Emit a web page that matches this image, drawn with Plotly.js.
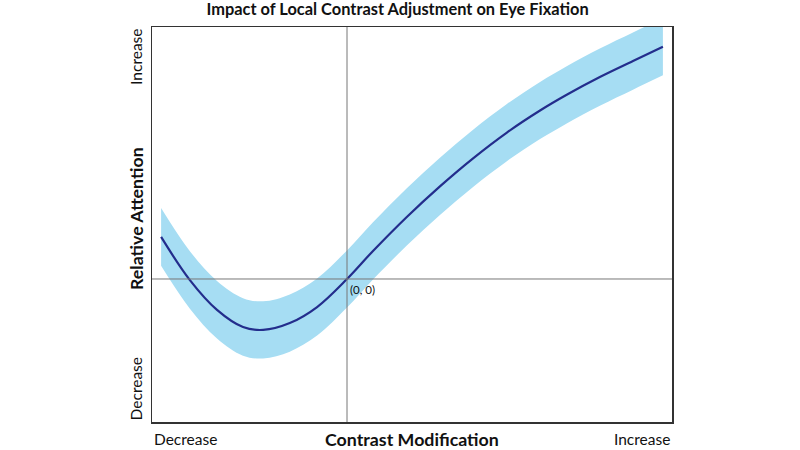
<!DOCTYPE html>
<html>
<head>
<meta charset="utf-8">
<script src="https://cdn.plot.ly/plotly-3.0.1.min.js"></script>
<style>html,body{margin:0;padding:0;background:#fff;}#chart{width:800px;height:450px;}</style>
</head>
<body>
<div id="chart"></div>
<script>
// Contrast modification (x) vs relative attention (y), arbitrary units
var contrast = [-2.86, -2.42, -2.00, -1.60, -1.29, -0.88, -0.46, 0.00, 0.40, 0.92, 1.43, 1.94, 2.46, 2.97, 3.38, 3.89, 4.40, 4.86];
var attention = [1.47, -0.03, -1.08, -1.68, -1.78, -1.54, -0.98, 0.00, 0.98, 2.17, 3.24, 4.22, 5.12, 5.89, 6.44, 7.06, 7.62, 8.12];
var attentionUpper = [2.48, 0.98, -0.07, -0.67, -0.78, -0.54, 0.02, 1.00, 1.98, 3.17, 4.24, 5.22, 6.12, 6.89, 7.44, 8.06, 8.62, 9.12];
var attentionLower = [0.46, -1.03, -2.08, -2.68, -2.78, -2.54, -1.98, -1.00, -0.02, 1.17, 2.24, 3.22, 4.12, 4.89, 5.44, 6.06, 6.62, 7.12];
var xTickLabels = ["Decrease", "Increase"];
var yTickLabels = ["Decrease", "Increase"];
var originLabel = "(0, 0)";

var font = "Lato, 'Open Sans', 'Noto Sans', sans-serif";
var bandColor = "rgb(166,221,243)";
var lineColor = "rgb(35,45,140)";

var traces = [
  {x: contrast, y: attentionLower, mode: "lines", line: {width: 0, shape: "spline", color: bandColor}, hoverinfo: "skip", showlegend: false},
  {x: contrast, y: attentionUpper, mode: "lines", line: {width: 0, shape: "spline", color: bandColor}, fill: "tonexty", fillcolor: bandColor, hoverinfo: "skip", showlegend: false},
  {x: contrast, y: attention, mode: "lines", line: {width: 2.2, shape: "spline", color: lineColor}, showlegend: false}
];

var tickFont = {family: font, size: 15.5, color: "#111"};
var axisTitleFont = {family: font, size: 17.8, color: "#111"};

var layout = {
  width: 800, height: 450,
  margin: {l: 152, r: 128, t: 27, b: 28},
  paper_bgcolor: "#fff", plot_bgcolor: "#fff",
  showlegend: false,
  title: {text: "<b>Impact of Local Contrast Adjustment on Eye Fixation</b>", font: {family: font, size: 16.4, color: "#111"}, x: 0.497, xanchor: "center", y: 0.979, yanchor: "middle"},
  xaxis: {range: [-3, 5], showgrid: false, zeroline: false, showticklabels: false, ticks: "", showline: true, mirror: true, linecolor: "#333", linewidth: 1.5},
  yaxis: {range: [-5, 8.81], showgrid: false, zeroline: false, showticklabels: false, ticks: "", showline: true, mirror: true, linecolor: "#333", linewidth: 1.5},
  shapes: [
    {type: "line", xref: "x", yref: "paper", x0: 0, x1: 0, y0: 0, y1: 1, line: {color: "#777", width: 1}, layer: "above"},
    {type: "line", xref: "paper", yref: "y", x0: 0, x1: 1, y0: 0, y1: 0, line: {color: "#777", width: 1}, layer: "above"}
  ],
  annotations: [
    {text: xTickLabels[0], xref: "paper", yref: "paper", x: 0, y: -0.043, xanchor: "left", yanchor: "middle", showarrow: false, font: tickFont},
    {text: xTickLabels[1], xref: "paper", yref: "paper", x: 1, y: -0.043, xanchor: "right", yanchor: "middle", showarrow: false, font: tickFont},
    {text: "<b>Contrast Modification</b>", xref: "paper", yref: "paper", x: 0.5, y: -0.043, xanchor: "center", yanchor: "middle", showarrow: false, font: axisTitleFont},
    {text: yTickLabels[1], xref: "paper", yref: "paper", x: -0.031, y: 1, xanchor: "center", yanchor: "top", textangle: -90, showarrow: false, font: tickFont},
    {text: yTickLabels[0], xref: "paper", yref: "paper", x: -0.031, y: 0, xanchor: "center", yanchor: "bottom", textangle: -90, showarrow: false, font: tickFont},
    {text: "<b>Relative Attention</b>", xref: "paper", yref: "paper", x: -0.031, y: 0.516, xanchor: "center", yanchor: "middle", textangle: -90, showarrow: false, font: axisTitleFont},
    {text: originLabel, xref: "x", yref: "y", x: 0, y: 0, xanchor: "left", yanchor: "top", xshift: 1, yshift: -2, showarrow: false, font: {family: font, size: 11.5, color: "#111"}}
  ]
};

Plotly.newPlot("chart", traces, layout, {displayModeBar: false, staticPlot: true});
</script>
</body>
</html>
